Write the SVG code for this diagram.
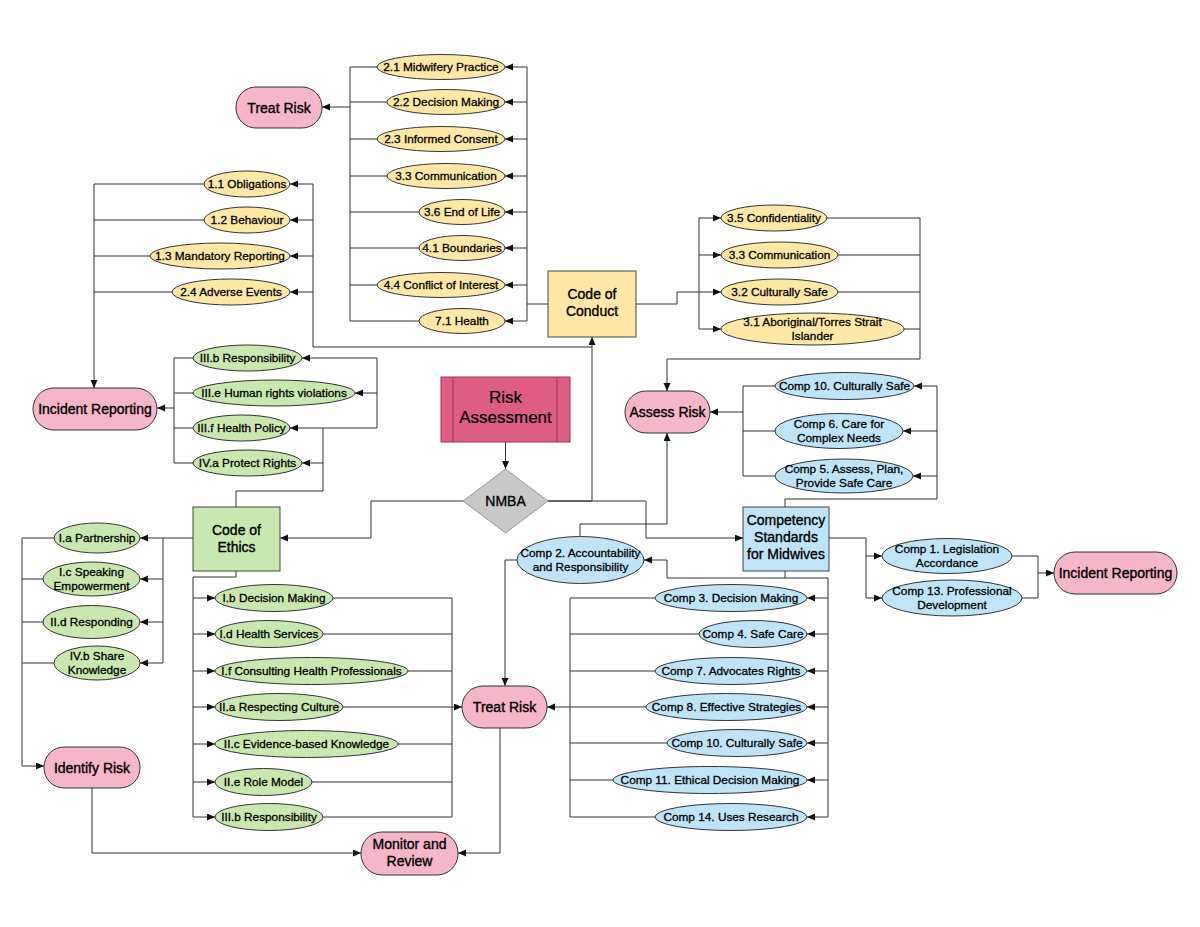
<svg xmlns="http://www.w3.org/2000/svg" width="1200" height="927" viewBox="0 0 1200 927">
<defs>
<marker id="ar" markerUnits="userSpaceOnUse" markerWidth="9" markerHeight="8" refX="8" refY="3.5" orient="auto">
<path d="M0,0 L8,3.5 L0,7 Z" fill="#111"/>
</marker>
<style>
.y{fill:#ffe8a6;stroke:#333;stroke-width:1}
.g{fill:#c9e8b0;stroke:#333;stroke-width:1}
.b{fill:#c0e4f7;stroke:#333;stroke-width:1}
.p{fill:#f5b6c9;stroke:#333;stroke-width:1}
.bx{stroke:#444;stroke-width:1}
.t{font-family:"Liberation Sans",Arial,sans-serif;font-size:11.8px;text-anchor:middle;fill:#000;stroke:#000;stroke-width:0.3}
.L{font-size:14px;stroke-width:0.35}
.c path{fill:none;stroke:#333;stroke-width:1}
.c .a{marker-end:url(#ar)}
</style>
</defs>
<rect width="1200" height="927" fill="#fff"/>

<g id="connectors" class="c">
<path d="M548,304 H527 M527,67 V321"/>
<path class="a" d="M527,67 H505"/><path class="a" d="M527,102 H505"/><path class="a" d="M527,139 H505"/><path class="a" d="M527,176 H505"/>
<path class="a" d="M527,212 H505"/><path class="a" d="M527,248 H505"/><path class="a" d="M527,285 H505"/><path class="a" d="M527,321 H505"/>
<path d="M377,67 H350 M387,102 H350 M377,139 H350 M387,176 H350 M419,212 H350 M419,248 H350 M377,285 H350 M419,321 H350 M350,67 V321"/>
<path class="a" d="M350,107 H322"/>
<path class="a" d="M548,501 H592 V337"/>
<path d="M592,347 H313 V184"/>
<path class="a" d="M313,184 H290"/><path class="a" d="M313,220 H290"/><path class="a" d="M313,256 H290"/><path class="a" d="M313,292 H290"/>
<path d="M204,184 H94 M204,220 H94 M150,256 H94 M172,292 H94"/>
<path class="a" d="M94,184 V388"/>
<path d="M236,507 V491 H323 V428 H377 V358"/>
<path class="a" d="M377,358 H302"/><path class="a" d="M377,393 H355"/><path class="a" d="M323,428 H290"/><path class="a" d="M323,463 H302"/>
<path d="M193,358 H174 M193,393 H174 M193,428 H174 M193,463 H174 M174,358 V463"/>
<path class="a" d="M174,408 H157"/>
<path class="a" d="M463,501 H371 V538 H280"/>
<path d="M193,538 H163 M163,538 V663"/>
<path class="a" d="M163,538 H140"/><path class="a" d="M163,579 H140"/><path class="a" d="M163,622 H140"/><path class="a" d="M163,663 H140"/>
<path d="M54,538 H22 M43,579 H22 M43,622 H22 M54,663 H22"/>
<path class="a" d="M22,538 V766 H44"/>
<path d="M236,571 V577 H193 V817"/>
<path class="a" d="M193,598 H215"/><path class="a" d="M193,634 H215"/><path class="a" d="M193,671 H215"/><path class="a" d="M193,707 H215"/>
<path class="a" d="M193,744 H215"/><path class="a" d="M193,782 H215"/><path class="a" d="M193,817 H215"/>
<path d="M333,598 H452 M323,634 H452 M408,671 H452 M343,707 H452 M398,744 H452 M312,782 H452 M323,817 H452 M452,598 V817"/>
<path class="a" d="M452,707 H462"/>
<path class="a" d="M505.5,442 V469"/>
<path class="a" d="M548,501 H646 V538 H743"/>
<path class="a" d="M829,538 H866 V598 H882"/><path class="a" d="M866,556 H882"/>
<path d="M1012,556 H1038 V598 H1022"/>
<path class="a" d="M1038,573 H1054"/>
<path d="M785,571 V578 H828 V817"/>
<path class="a" d="M828,598 H807"/><path class="a" d="M828,634 H807"/><path class="a" d="M828,671 H807"/><path class="a" d="M828,707 H807"/>
<path class="a" d="M828,743 H807"/><path class="a" d="M828,780 H807"/><path class="a" d="M828,817 H807"/>
<path class="a" d="M785,578 H667 V560 H644"/>
<path d="M655,598 H570 M699,634 H570 M655,671 H570 M646,707 H570 M667,743 H570 M613,780 H570 M655,817 H570 M570,598 V817"/>
<path class="a" d="M570,707 H547"/>
<path class="a" d="M517,560 H505 V686"/>
<path class="a" d="M580,536 V524 H667 V433"/>
<path class="a" d="M785,507 V499 H937 V386 H914"/><path class="a" d="M937,431 H903"/><path class="a" d="M937,476 H913"/>
<path d="M775,386 H743 M775,431 H743 M775,476 H743 M743,386 V476"/>
<path class="a" d="M743,412 H710"/>
<path class="a" d="M636,304 H677 V292 H721"/>
<path d="M699,218 V329"/>
<path class="a" d="M699,218 H721"/><path class="a" d="M699,255 H721"/><path class="a" d="M699,329 H721"/>
<path d="M827,218 H920 M838,255 H920 M838,292 H920 M904,329 H920"/>
<path class="a" d="M920,218 V359 H667 V391"/>
<path class="a" d="M92,788 V853 H361"/>
<path class="a" d="M500,728 V853 H458"/>
</g>

<!-- Code of Conduct left list -->
<g id="n21"><ellipse class="y" cx="441" cy="67" rx="64" ry="12.5"/><text class="t" x="441" y="71">2.1 Midwifery Practice</text></g>
<g id="n22"><ellipse class="y" cx="446" cy="102" rx="59" ry="12.5"/><text class="t" x="446" y="106">2.2 Decision Making</text></g>
<g id="n23"><ellipse class="y" cx="441" cy="139" rx="64" ry="12.5"/><text class="t" x="441" y="143">2.3 Informed Consent</text></g>
<g id="n33a"><ellipse class="y" cx="446" cy="176" rx="59" ry="12.5"/><text class="t" x="446" y="180">3.3 Communication</text></g>
<g id="n36"><ellipse class="y" cx="462" cy="212" rx="43" ry="12.5"/><text class="t" x="462" y="216">3.6 End of Life</text></g>
<g id="n41"><ellipse class="y" cx="462" cy="248" rx="43" ry="12.5"/><text class="t" x="462" y="252">4.1 Boundaries</text></g>
<g id="n44"><ellipse class="y" cx="441" cy="285" rx="64" ry="12.5"/><text class="t" x="441" y="289">4.4 Conflict of Interest</text></g>
<g id="n71"><ellipse class="y" cx="462" cy="321" rx="43" ry="12.5"/><text class="t" x="462" y="325">7.1 Health</text></g>
<g id="treatTop"><rect class="p" x="236" y="87" width="86" height="41" rx="20"/><text class="t L" x="279" y="112.5">Treat Risk</text></g>

<g id="coc"><rect class="y bx" x="548" y="271" width="88" height="66"/><text class="t L" x="592" y="299">Code of</text><text class="t L" x="592" y="316">Conduct</text></g>

<g id="n11"><ellipse class="y" cx="247" cy="184" rx="43" ry="13"/><text class="t" x="247" y="188">1.1 Obligations</text></g>
<g id="n12"><ellipse class="y" cx="247" cy="220" rx="43" ry="13"/><text class="t" x="247" y="224">1.2 Behaviour</text></g>
<g id="n13"><ellipse class="y" cx="220" cy="256" rx="70" ry="13"/><text class="t" x="220" y="260">1.3 Mandatory Reporting</text></g>
<g id="n24"><ellipse class="y" cx="231" cy="292" rx="59" ry="13"/><text class="t" x="231" y="296">2.4 Adverse Events</text></g>
<g id="incLeft"><rect class="p" x="33" y="388" width="124" height="42" rx="21"/><text class="t L" x="95" y="414">Incident Reporting</text></g>

<g id="g3b"><ellipse class="g" cx="247.5" cy="358" rx="54.5" ry="13"/><text class="t" x="247.5" y="362">III.b Responsibility</text></g>
<g id="g3e"><ellipse class="g" cx="274" cy="393" rx="81" ry="13"/><text class="t" x="274" y="397">III.e Human rights violations</text></g>
<g id="g3f"><ellipse class="g" cx="241.5" cy="428" rx="48.5" ry="13"/><text class="t" x="241.5" y="432">III.f Health Policy</text></g>
<g id="g4a"><ellipse class="g" cx="247.5" cy="463" rx="54.5" ry="13"/><text class="t" x="247.5" y="467">IV.a Protect Rights</text></g>

<g id="riskAssessment"><rect x="441" y="377" width="129" height="65" fill="#de5d83" stroke="#9c3456"/><path d="M453,377 V442 M557,377 V442" stroke="#9c3456" fill="none"/><text class="t" x="505.5" y="403" style="font-size:17px;stroke-width:0.2">Risk</text><text class="t" x="505.5" y="423" style="font-size:17px;stroke-width:0.2">Assessment</text></g>
<g id="nmba"><polygon points="463,501 505.5,469 548,501 505.5,533" fill="#c8c8c8" stroke="#999"/><text class="t L" x="505.5" y="506">NMBA</text></g>

<g id="coe"><rect class="g bx" x="193" y="507" width="87" height="64"/><text class="t L" x="236.5" y="535">Code of</text><text class="t L" x="236.5" y="552">Ethics</text></g>

<g id="g1a"><ellipse class="g" cx="97" cy="538" rx="43" ry="15"/><text class="t" x="97" y="542">I.a Partnership</text></g>
<g id="g1c"><ellipse class="g" cx="91.5" cy="579" rx="48.5" ry="17"/><text class="t" x="91.5" y="576">I.c Speaking</text><text class="t" x="91.5" y="590">Empowerment</text></g>
<g id="g2d"><ellipse class="g" cx="91.5" cy="622" rx="48.5" ry="16.5"/><text class="t" x="91.5" y="626">II.d Responding</text></g>
<g id="g4b"><ellipse class="g" cx="97" cy="663" rx="43" ry="17"/><text class="t" x="97" y="660">IV.b Share</text><text class="t" x="97" y="674">Knowledge</text></g>
<g id="identify"><rect class="p" x="44" y="747" width="96" height="41" rx="20"/><text class="t L" x="92" y="772.5">Identify Risk</text></g>

<g id="g1b"><ellipse class="g" cx="274" cy="598" rx="59" ry="13.5"/><text class="t" x="274" y="602">I.b Decision Making</text></g>
<g id="g1d"><ellipse class="g" cx="269" cy="634" rx="54" ry="13.5"/><text class="t" x="269" y="638">I.d Health Services</text></g>
<g id="g1f"><ellipse class="g" cx="311.5" cy="671" rx="96.5" ry="13.5"/><text class="t" x="311.5" y="675">I.f Consulting Health Professionals</text></g>
<g id="g2a"><ellipse class="g" cx="279" cy="707" rx="64" ry="13.5"/><text class="t" x="279" y="711">II.a Respecting Culture</text></g>
<g id="g2c"><ellipse class="g" cx="306.5" cy="744" rx="91.5" ry="13.5"/><text class="t" x="306.5" y="748">II.c Evidence-based Knowledge</text></g>
<g id="g2e"><ellipse class="g" cx="263.5" cy="782" rx="48.5" ry="13.5"/><text class="t" x="263.5" y="786">II.e Role Model</text></g>
<g id="g3b2"><ellipse class="g" cx="269" cy="817" rx="54" ry="13.5"/><text class="t" x="269" y="821">III.b Responsibility</text></g>

<g id="treatBottom"><rect class="p" x="462" y="686" width="85" height="42" rx="21"/><text class="t L" x="504.5" y="712">Treat Risk</text></g>
<g id="monitor"><rect class="p" x="361" y="832" width="97" height="43" rx="21"/><text class="t L" x="409.5" y="849">Monitor and</text><text class="t L" x="409.5" y="866">Review</text></g>

<g id="comp2"><ellipse class="b" cx="580.5" cy="560" rx="63.5" ry="23.5"/><text class="t" x="580.5" y="557">Comp 2. Accountability</text><text class="t" x="580.5" y="571">and Responsibility</text></g>
<g id="competency"><rect class="b bx" x="743" y="507" width="86" height="64"/><text class="t L" x="786" y="525">Competency</text><text class="t L" x="786" y="542">Standards</text><text class="t L" x="786" y="559">for Midwives</text></g>

<g id="c3"><ellipse class="b" cx="731" cy="598" rx="76" ry="13.5"/><text class="t" x="731" y="602">Comp 3. Decision Making</text></g>
<g id="c4"><ellipse class="b" cx="753" cy="634" rx="54" ry="13.5"/><text class="t" x="753" y="638">Comp 4. Safe Care</text></g>
<g id="c7"><ellipse class="b" cx="731" cy="671" rx="76" ry="13.5"/><text class="t" x="731" y="675">Comp 7. Advocates Rights</text></g>
<g id="c8"><ellipse class="b" cx="726.5" cy="707" rx="80.5" ry="13.5"/><text class="t" x="726.5" y="711">Comp 8. Effective Strategies</text></g>
<g id="c10b"><ellipse class="b" cx="737" cy="743" rx="70" ry="13.5"/><text class="t" x="737" y="747">Comp 10. Culturally Safe</text></g>
<g id="c11"><ellipse class="b" cx="710" cy="780" rx="97" ry="13.5"/><text class="t" x="710" y="784">Comp 11. Ethical Decision Making</text></g>
<g id="c14"><ellipse class="b" cx="731" cy="817" rx="76" ry="13.5"/><text class="t" x="731" y="821">Comp 14. Uses Research</text></g>

<g id="c1"><ellipse class="b" cx="947" cy="556" rx="65" ry="17.5"/><text class="t" x="947" y="553">Comp 1. Legislation</text><text class="t" x="947" y="567">Accordance</text></g>
<g id="c13"><ellipse class="b" cx="952" cy="598" rx="70" ry="18"/><text class="t" x="952" y="595">Comp 13. Professional</text><text class="t" x="952" y="609">Development</text></g>
<g id="incRight"><rect class="p" x="1054" y="552" width="123" height="42" rx="21"/><text class="t L" x="1115.5" y="578">Incident Reporting</text></g>

<g id="assess"><rect class="p" x="625" y="391" width="85" height="42" rx="21"/><text class="t L" x="667.5" y="417">Assess Risk</text></g>
<g id="c10a"><ellipse class="b" cx="844.5" cy="386" rx="69.5" ry="13.5"/><text class="t" x="844.5" y="390">Comp 10. Culturally Safe</text></g>
<g id="c6"><ellipse class="b" cx="839" cy="431" rx="64" ry="17.5"/><text class="t" x="839" y="428">Comp 6. Care for</text><text class="t" x="839" y="442">Complex Needs</text></g>
<g id="c5"><ellipse class="b" cx="844" cy="476" rx="69" ry="17"/><text class="t" x="844" y="473">Comp 5. Assess, Plan,</text><text class="t" x="844" y="487">Provide Safe Care</text></g>

<g id="n35"><ellipse class="y" cx="774" cy="218" rx="53" ry="13"/><text class="t" x="774" y="222">3.5 Confidentiality</text></g>
<g id="n33b"><ellipse class="y" cx="779.5" cy="255" rx="58.5" ry="13"/><text class="t" x="779.5" y="259">3.3 Communication</text></g>
<g id="n32"><ellipse class="y" cx="779.5" cy="292" rx="58.5" ry="13"/><text class="t" x="779.5" y="296">3.2 Culturally Safe</text></g>
<g id="n31"><ellipse class="y" cx="812.5" cy="329" rx="91.5" ry="16"/><text class="t" x="812.5" y="326">3.1 Aboriginal/Torres Strait</text><text class="t" x="812.5" y="340">Islander</text></g>
</svg>
